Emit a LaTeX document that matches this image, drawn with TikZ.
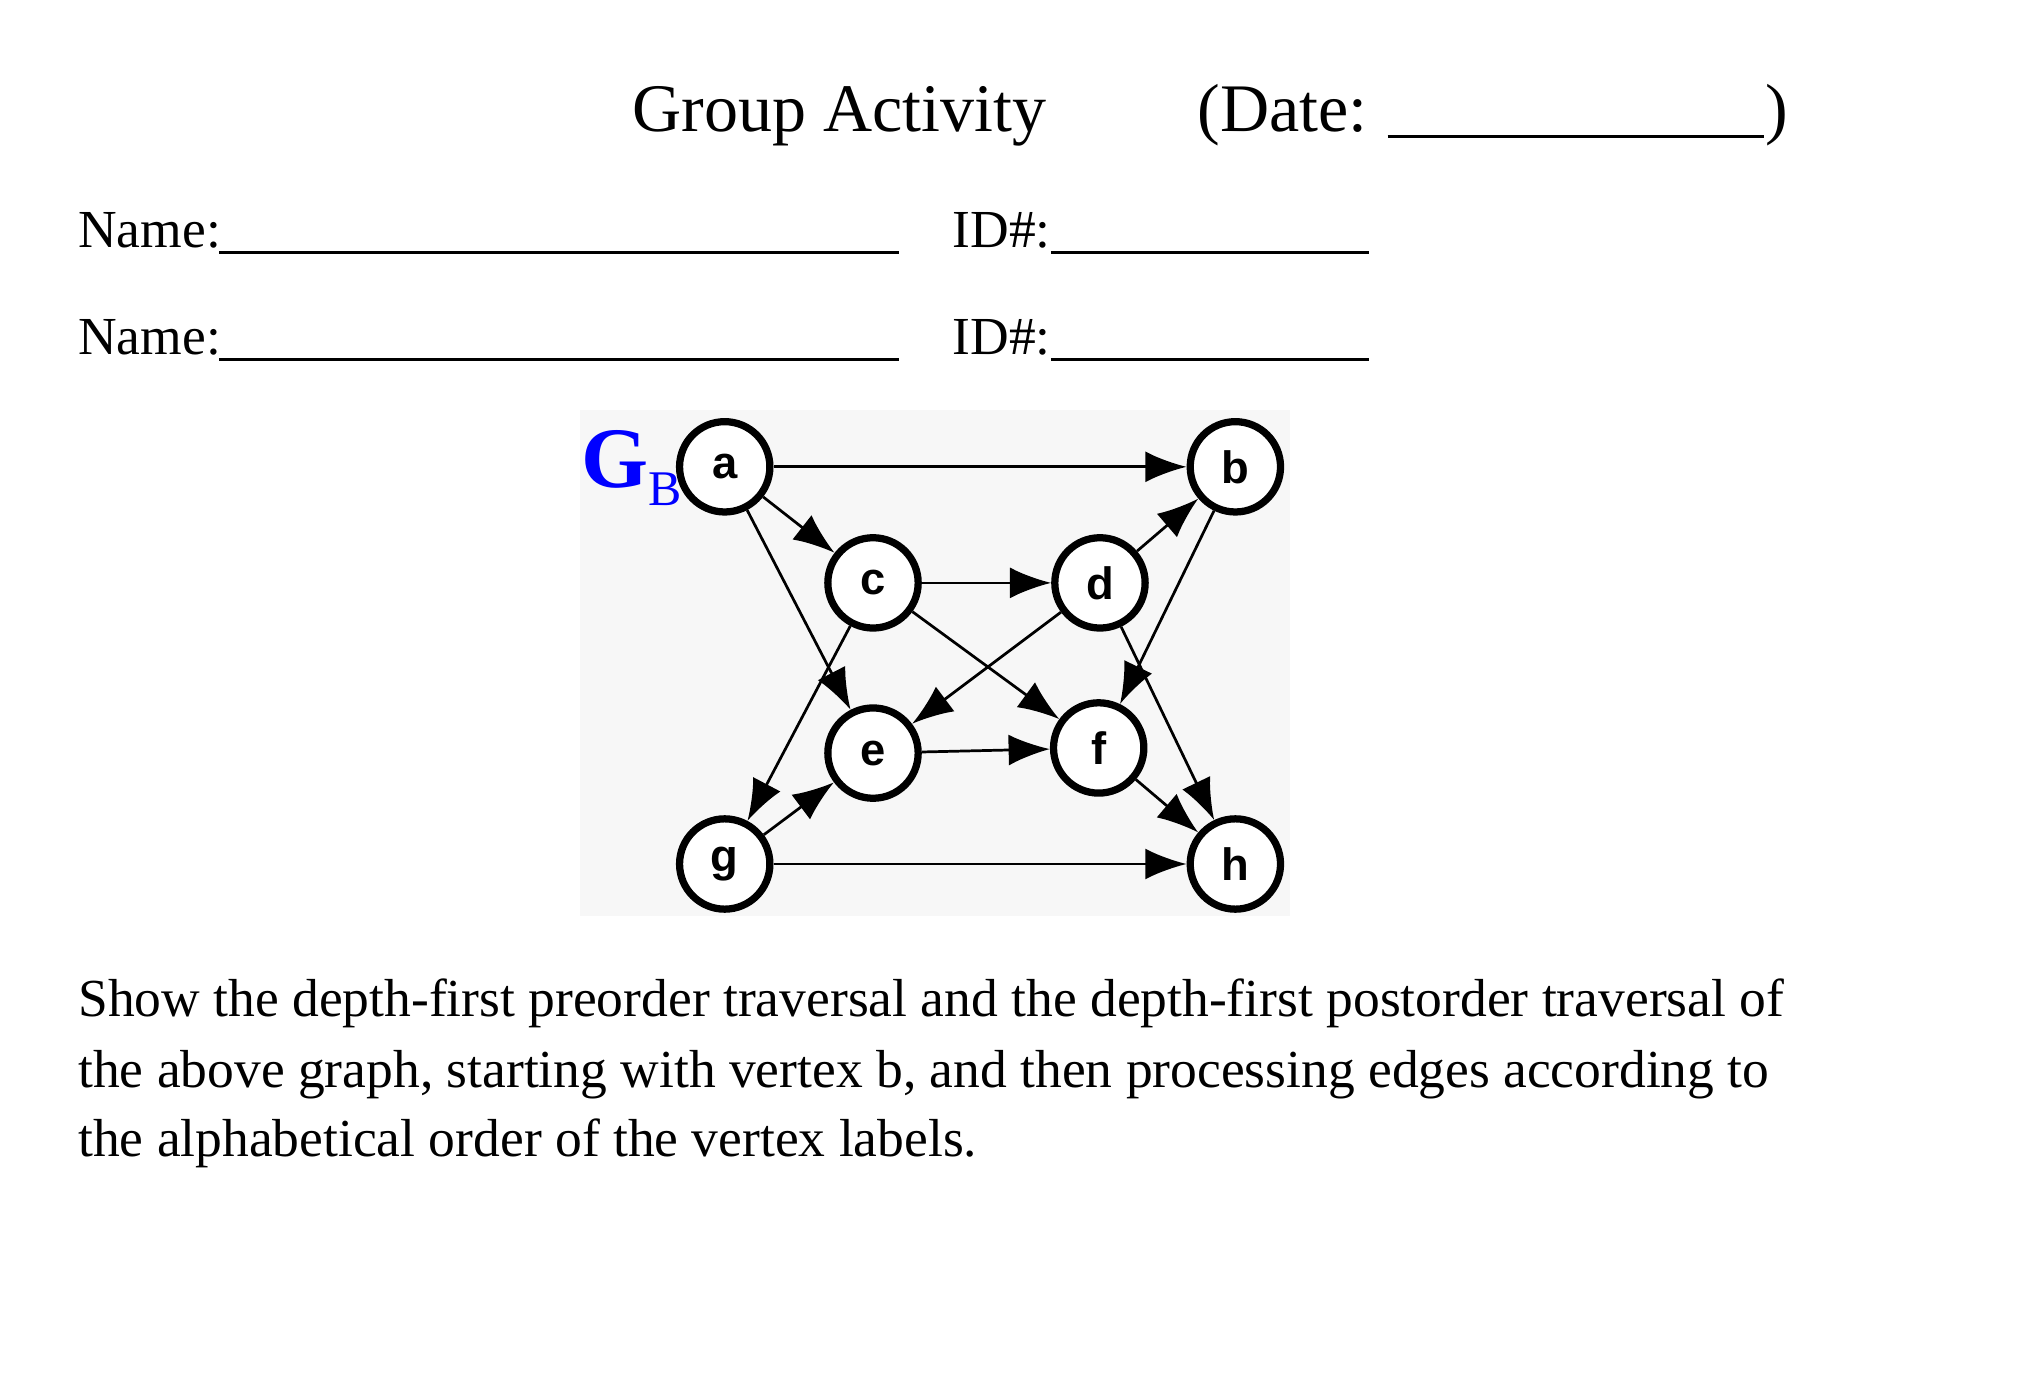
\documentclass[tikz,border=0pt]{standalone}
\usepackage{fontspec}
\setmainfont{Liberation Serif}
\newfontfamily\gsans{Liberation Sans}
\usetikzlibrary{arrows.meta}
\begin{document}
\begin{tikzpicture}[x=0.01cm,y=-0.01cm,
  v/.style={circle,draw,line width=1.6pt,minimum size=0.7cm,inner sep=0pt,fill=white,font=\gsans\bfseries\fontsize{10}{10}\selectfont},
  e/.style={-{Latex[length=0.32cm,width=0.24cm]},line width=0.6pt},
  t/.style={anchor=base west,inner sep=0pt,font=\fontsize{11.8}{14}\selectfont},
  ul/.style={line width=0.6pt}]
\useasboundingbox (0,0) rectangle (1568,1069);
\node[t,font=\fontsize{15}{18}\selectfont] (title) at (490,102) {Group Activity};
\node[t,font=\fontsize{15}{18}\selectfont] (date) at (928,102) {(Date:};
\node[t,font=\fontsize{15}{18}\selectfont] (dclose) at (1368,102) {)};
\draw[ul] (1076,106) -- (1368,106);
\node[t] (n1) at (60,192) {Name:};
\draw[ul] (170,196) -- (697,196);
\node[t] (i1) at (738,192) {ID\#:};
\draw[ul] (815,196) -- (1062,196);
\node[t] (n2) at (60,275) {Name:};
\draw[ul] (170,279) -- (697,279);
\node[t] (i2) at (738,275) {ID\#:};
\draw[ul] (815,279) -- (1062,279);
\fill[black!3] (450,318) rectangle (1000,710);
\node[anchor=base west,inner sep=0pt,text=blue,font=\bfseries\fontsize{19}{19}\selectfont] (gb) at (450,378) {G\raisebox{-0.45ex}{\fontsize{11}{11}\selectfont\mdseries B}};
\node[v] (a) at (562,362) {a};
\node[v] (b) at (958,362) {b};
\node[v] (c) at (677,452) {c};
\node[v] (d) at (853,452) {d};
\node[v] (e) at (677,584) {e};
\node[v] (f) at (852,580) {f};
\node[v] (g) at (562,670) {g};
\node[v] (h) at (958,670) {h};
\draw[e] (a) -- (b);
\draw[e] (a) -- (c);
\draw[e] (a) -- (e);
\draw[e] (b) -- (f);
\draw[e] (c) -- (d);
\draw[e] (c) -- (f);
\draw[e] (c) -- (g);
\draw[e] (d) -- (b);
\draw[e] (d) -- (e);
\draw[e] (d) -- (h);
\draw[e] (e) -- (f);
\draw[e] (f) -- (h);
\draw[e] (g) -- (e);
\draw[e] (g) -- (h);
\node[t] (p1) at (60,788) {Show the depth-first preorder traversal and the depth-first postorder traversal of};
\node[t] (p2) at (60,843) {the above graph, starting with vertex b, and then processing edges according to};
\node[t] (p3) at (60,897) {the alphabetical order of the vertex labels.};
\end{tikzpicture}
\end{document}
